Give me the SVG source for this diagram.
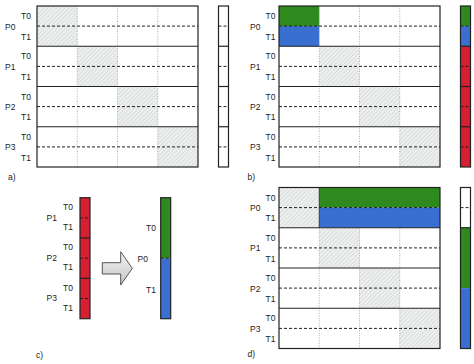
<svg xmlns="http://www.w3.org/2000/svg" width="474" height="364" viewBox="0 0 474 364">
<style>
text{font-family:"Liberation Sans",Arial,sans-serif;font-size:8.5px;fill:#222}
.b{fill:none;stroke:#222;stroke-width:1.2}
.s{stroke:#222;stroke-width:1.2}
.d{stroke:#222;stroke-width:1;stroke-dasharray:3,2}
.v{stroke:#999;stroke-width:0.8;stroke-dasharray:1,1.5}
.h{fill:url(#hatch)}
.g{fill:#2f8a1e}
.bl{fill:#3a6fd2}
.r{fill:#d51f32}
.w{fill:#fff}
</style>
<defs>
<pattern id="hatch" patternUnits="userSpaceOnUse" width="3" height="3" patternTransform="rotate(45)">
<rect width="3" height="3" fill="#eef0f0"/>
<line x1="0" y1="0" x2="0" y2="3" stroke="#c4caca" stroke-width="1"/>
</pattern>
<linearGradient id="ag" x1="0" y1="0" x2="0" y2="1">
<stop offset="0" stop-color="#f4f4f4"/>
<stop offset="1" stop-color="#c4c4c4"/>
</linearGradient>
</defs>
<rect width="474" height="364" fill="#fff"/>

<!-- Panel a -->
<g id="panel-a">
<rect x="37" y="6" width="161" height="161" class="w"/>
<rect x="37" y="6" width="40.25" height="40.25" class="h"/>
<rect x="77.25" y="46.25" width="40.25" height="40.25" class="h"/>
<rect x="117.5" y="86.5" width="40.25" height="40.25" class="h"/>
<rect x="157.75" y="126.75" width="40.25" height="40.25" class="h"/>
<line x1="77.25" y1="6" x2="77.25" y2="167" class="v"/>
<line x1="117.5" y1="6" x2="117.5" y2="167" class="v"/>
<line x1="157.75" y1="6" x2="157.75" y2="167" class="v"/>
<line x1="37" y1="26.1" x2="198" y2="26.1" class="d"/>
<line x1="37" y1="66.4" x2="198" y2="66.4" class="d"/>
<line x1="37" y1="106.6" x2="198" y2="106.6" class="d"/>
<line x1="37" y1="146.9" x2="198" y2="146.9" class="d"/>
<line x1="37" y1="46.25" x2="198" y2="46.25" class="s"/>
<line x1="37" y1="86.5" x2="198" y2="86.5" class="s"/>
<line x1="37" y1="126.75" x2="198" y2="126.75" class="s"/>
<rect x="37" y="6" width="161" height="161" class="b"/>
<text x="21" y="19">T0</text><text x="5" y="29.5">P0</text><text x="21" y="39.7">T1</text>
<text x="21" y="59.3">T0</text><text x="5" y="69.8">P1</text><text x="21" y="80">T1</text>
<text x="21" y="99.5">T0</text><text x="5" y="110">P2</text><text x="21" y="120.2">T1</text>
<text x="21" y="139.8">T0</text><text x="5" y="150.3">P3</text><text x="21" y="160.5">T1</text>
<rect x="218.5" y="6" width="10" height="161" class="w"/>
<line x1="218.5" y1="26.1" x2="228.5" y2="26.1" class="d"/>
<line x1="218.5" y1="66.4" x2="228.5" y2="66.4" class="d"/>
<line x1="218.5" y1="106.6" x2="228.5" y2="106.6" class="d"/>
<line x1="218.5" y1="146.9" x2="228.5" y2="146.9" class="d"/>
<line x1="218.5" y1="46.25" x2="228.5" y2="46.25" class="s"/>
<line x1="218.5" y1="86.5" x2="228.5" y2="86.5" class="s"/>
<line x1="218.5" y1="126.75" x2="228.5" y2="126.75" class="s"/>
<rect x="218.5" y="6" width="10" height="161" class="b"/>
<text x="8" y="180">a)</text>
</g>

<!-- Panel b -->
<g id="panel-b">
<rect x="279" y="6" width="161" height="161" class="w"/>
<rect x="279" y="6" width="40.25" height="20.1" class="g"/>
<rect x="279" y="26.1" width="40.25" height="20.15" class="bl"/>
<rect x="319.25" y="46.25" width="40.25" height="40.25" class="h"/>
<rect x="359.5" y="86.5" width="40.25" height="40.25" class="h"/>
<rect x="399.75" y="126.75" width="40.25" height="40.25" class="h"/>
<line x1="319.25" y1="6" x2="319.25" y2="167" class="v"/>
<line x1="359.5" y1="6" x2="359.5" y2="167" class="v"/>
<line x1="399.75" y1="6" x2="399.75" y2="167" class="v"/>
<line x1="279" y1="26.1" x2="440" y2="26.1" class="d"/>
<line x1="279" y1="66.4" x2="440" y2="66.4" class="d"/>
<line x1="279" y1="106.6" x2="440" y2="106.6" class="d"/>
<line x1="279" y1="146.9" x2="440" y2="146.9" class="d"/>
<line x1="279" y1="46.25" x2="440" y2="46.25" class="s"/>
<line x1="279" y1="86.5" x2="440" y2="86.5" class="s"/>
<line x1="279" y1="126.75" x2="440" y2="126.75" class="s"/>
<rect x="279" y="6" width="161" height="161" class="b"/>
<text x="265.5" y="19">T0</text><text x="250" y="29.5">P0</text><text x="265.5" y="39.7">T1</text>
<text x="265.5" y="59.3">T0</text><text x="250" y="69.8">P1</text><text x="265.5" y="80">T1</text>
<text x="265.5" y="99.5">T0</text><text x="250" y="110">P2</text><text x="265.5" y="120.2">T1</text>
<text x="265.5" y="139.8">T0</text><text x="250" y="150.3">P3</text><text x="265.5" y="160.5">T1</text>
<rect x="460.5" y="6" width="10" height="20.1" class="g"/>
<rect x="460.5" y="26.1" width="10" height="20.15" class="bl"/>
<rect x="460.5" y="46.25" width="10" height="120.75" class="r"/>
<line x1="460.5" y1="26.1" x2="470.5" y2="26.1" class="d"/>
<line x1="460.5" y1="66.4" x2="470.5" y2="66.4" class="d"/>
<line x1="460.5" y1="106.6" x2="470.5" y2="106.6" class="d"/>
<line x1="460.5" y1="146.9" x2="470.5" y2="146.9" class="d"/>
<line x1="460.5" y1="46.25" x2="470.5" y2="46.25" class="s"/>
<line x1="460.5" y1="86.5" x2="470.5" y2="86.5" class="s"/>
<line x1="460.5" y1="126.75" x2="470.5" y2="126.75" class="s"/>
<rect x="460.5" y="6" width="10" height="161" class="b"/>
<text x="247.5" y="180">b)</text>
</g>

<!-- Panel c -->
<g id="panel-c">
<rect x="80" y="197.7" width="10" height="121" class="r"/>
<line x1="80" y1="217.9" x2="90" y2="217.9" class="d"/>
<line x1="80" y1="258.2" x2="90" y2="258.2" class="d"/>
<line x1="80" y1="298.5" x2="90" y2="298.5" class="d"/>
<line x1="80" y1="238" x2="90" y2="238" class="s"/>
<line x1="80" y1="278.4" x2="90" y2="278.4" class="s"/>
<rect x="80" y="197.7" width="10" height="121" class="b"/>
<text x="63" y="210">T0</text><text x="46.5" y="220.5">P1</text><text x="63" y="230">T1</text>
<text x="63" y="250.3">T0</text><text x="46.5" y="260.8">P2</text><text x="63" y="270.3">T1</text>
<text x="63" y="290.6">T0</text><text x="46.5" y="301.1">P3</text><text x="63" y="310.6">T1</text>
<rect x="160.7" y="197.7" width="10" height="60.5" class="g"/>
<rect x="160.7" y="258.2" width="10" height="60.5" class="bl"/>
<line x1="160.7" y1="258.2" x2="170.7" y2="258.2" class="d"/>
<rect x="160.7" y="197.7" width="10" height="121" class="b"/>
<text x="146" y="231">T0</text><text x="137.5" y="261.7">P0</text><text x="146" y="292.5">T1</text>
<text x="36" y="358">c)</text>
</g>

<g id="connectors">
<polygon points="102.3,262.7 120.7,262.7 120.7,251.7 132.3,268.3 120.7,285 120.7,274 102.3,274" fill="url(#ag)" stroke="#444" stroke-width="0.9" stroke-linejoin="miter"/>
</g>

<!-- Panel d -->
<g id="panel-d">
<rect x="279" y="187.5" width="161" height="161" class="w"/>
<rect x="279" y="187.5" width="40.25" height="40.25" class="h"/>
<rect x="319.25" y="187.5" width="120.75" height="20.1" class="g"/>
<rect x="319.25" y="207.6" width="120.75" height="20.15" class="bl"/>
<rect x="319.25" y="227.75" width="40.25" height="40.25" class="h"/>
<rect x="359.5" y="268" width="40.25" height="40.25" class="h"/>
<rect x="399.75" y="308.25" width="40.25" height="40.25" class="h"/>
<line x1="319.25" y1="227.75" x2="319.25" y2="348.5" class="v"/>
<line x1="359.5" y1="227.75" x2="359.5" y2="348.5" class="v"/>
<line x1="399.75" y1="227.75" x2="399.75" y2="348.5" class="v"/>
<line x1="319.25" y1="187.5" x2="319.25" y2="227.75" stroke="#222" stroke-width="0.8"/>
<line x1="279" y1="207.6" x2="440" y2="207.6" class="d"/>
<line x1="279" y1="247.9" x2="440" y2="247.9" class="d"/>
<line x1="279" y1="288.1" x2="440" y2="288.1" class="d"/>
<line x1="279" y1="328.4" x2="440" y2="328.4" class="d"/>
<line x1="279" y1="227.75" x2="440" y2="227.75" class="s"/>
<line x1="279" y1="268" x2="440" y2="268" class="s"/>
<line x1="279" y1="308.25" x2="440" y2="308.25" class="s"/>
<rect x="279" y="187.5" width="161" height="161" class="b"/>
<text x="265.5" y="200.5">T0</text><text x="250" y="211">P0</text><text x="265.5" y="221.2">T1</text>
<text x="265.5" y="240.8">T0</text><text x="250" y="251.3">P1</text><text x="265.5" y="261.5">T1</text>
<text x="265.5" y="281">T0</text><text x="250" y="291.5">P2</text><text x="265.5" y="301.7">T1</text>
<text x="265.5" y="321.3">T0</text><text x="250" y="331.8">P3</text><text x="265.5" y="342">T1</text>
<rect x="460.5" y="187.5" width="10" height="40.25" class="w"/>
<rect x="460.5" y="227.75" width="10" height="60.4" class="g"/>
<rect x="460.5" y="288.1" width="10" height="60.4" class="bl"/>
<line x1="460.5" y1="207.6" x2="470.5" y2="207.6" class="d"/>
<line x1="460.5" y1="227.75" x2="470.5" y2="227.75" class="s"/>
<rect x="460.5" y="187.5" width="10" height="161" class="b"/>
<text x="247.5" y="357">d)</text>
</g>
</svg>
